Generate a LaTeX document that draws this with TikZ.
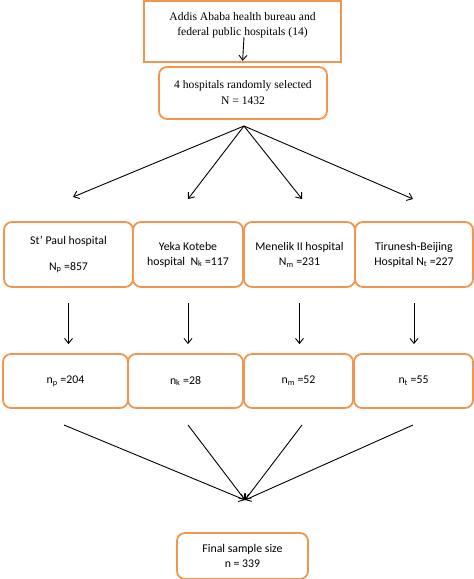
\documentclass[tikz,border=0pt]{standalone}
\usepackage{fontspec}
\setmainfont{Carlito}
\newfontfamily\timesfont{Liberation Serif}
\usetikzlibrary{arrows.meta, positioning, calc}
\definecolor{boxorange}{RGB}{240,150,80}
\tikzset{
    topbox/.style={rectangle, draw=boxorange, line width=1.8pt,
        minimum width=197pt, minimum height=61pt},
    flowbox/.style={rectangle, rounded corners=8pt, draw=boxorange, line width=1.8pt,
        align=center, inner sep=2pt, font=\fontsize{11.8}{15}\selectfont},
    serifbox/.style={flowbox, font=\timesfont\fontsize{11.6}{16}\selectfont},
    flowarrow/.style={-{Straight Barb[length=5pt, width=8pt]}, line width=0.9pt},
}

\begin{document}
\begin{tikzpicture}[x=1pt, y=-1pt]
    \useasboundingbox (0,0) rectangle (474,579);
    % top level
    \node[topbox] (bureau) at (242.5,31.5) {};
    \node[font=\timesfont\fontsize{11.6}{15}\selectfont, align=center] (bureautext) at (242.5,25)
        {Addis Ababa health bureau and\\federal public hospitals (14)};
    \coordinate (bstart) at (244,37);
    \draw[flowarrow, shorten >=2pt] (bstart) -- (bureau.south);
    \node[serifbox, minimum width=168pt, minimum height=52pt] (select) at (243,93)
        {4 hospitals randomly selected\\N = 1432};

    % hospitals
    \node[flowbox, minimum width=129pt, minimum height=65pt] (h1) at (68.5,254.5)
        {St’ Paul hospital\\[11pt]N\textsubscript{p} =857};
    \node[flowbox, minimum width=110pt, minimum height=65pt] (h2) at (188,254.5)
        {Yeka Kotebe\\hospital\ \ N\textsubscript{k} =117};
    \node[flowbox, minimum width=111pt, minimum height=65pt] (h3) at (299.5,254.5)
        {Menelik II hospital\\N\textsubscript{m} =231};
    \node[flowbox, minimum width=118pt, minimum height=65pt] (h4) at (414,254.5)
        {Tirunesh-Beijing\\Hospital N\textsubscript{t} =227};

    % samples
    \node[flowbox, minimum width=125pt, minimum height=54pt] (s1) at (65.5,381)
        {n\textsubscript{p} =204};
    \node[flowbox, minimum width=115pt, minimum height=54pt] (s2) at (185.5,381)
        {n\textsubscript{k} =28};
    \node[flowbox, minimum width=109pt, minimum height=54pt] (s3) at (298.5,381)
        {n\textsubscript{m} =52};
    \node[flowbox, minimum width=119pt, minimum height=54pt] (s4) at (413.5,381)
        {n\textsubscript{t} =55};

    \node[flowbox, minimum width=131pt, minimum height=46pt] (final) at (242.5,556)
        {Final sample size\\n = 339};

    % connectors
    \coordinate (fan) at (244,126);
    \coordinate (meet) at (245,500);
    \foreach \i/\fx/\fy/\cx in {1/73/197/64, 2/188/199/188, 3/302/199/302, 4/413/199/413} {
        \coordinate (f\i) at (\fx,\fy);
        \coordinate (c\i) at (\cx,425);
        \draw[flowarrow] (fan) -- (f\i);
        \draw[flowarrow, shorten <=15pt, shorten >=9pt] (h\i.south) -- (h\i.south |- s\i.north);
        \draw[flowarrow] (c\i) -- (meet);
    }
\end{tikzpicture}
\end{document}
